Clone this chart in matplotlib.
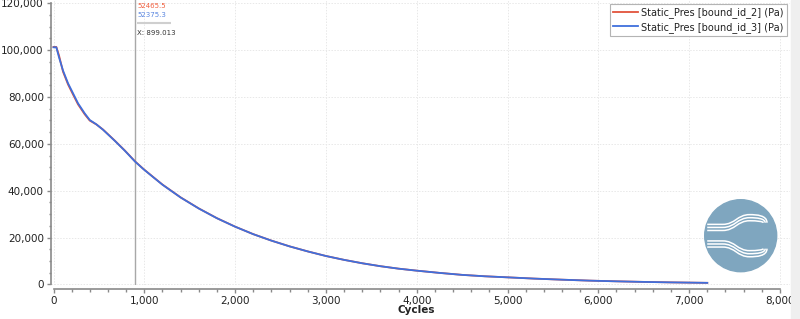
import numpy as np
import matplotlib
matplotlib.use("Agg")
import matplotlib.pyplot as plt
from matplotlib.ticker import MultipleLocator, FuncFormatter
from matplotlib.patches import Circle, Rectangle, PathPatch
from matplotlib.path import Path

plt.rcParams['font.family'] = ['DejaVu Sans']

# 데이터
cycles = [0, 31, 61, 105, 160, 215, 270, 343, 399, 472, 545, 674, 784, 899,
          993, 1100, 1200, 1400, 1600, 1800, 2000, 2200, 2400, 2600, 2800,
          3000, 3200, 3400, 3600, 3800, 4000, 4250, 4500, 4750, 5000, 5300,
          5600, 5900, 6200, 6500, 6800, 7000, 7200]
pres_id3 = [101150, 101150, 96800, 91200, 85800, 81540, 77270, 73000, 70150,
            68300, 66000, 61300, 57100, 52375, 49100, 45700, 42550, 37100,
            32400, 28250, 24650, 21450, 18700, 16250, 14100, 12150, 10500,
            9050, 7800, 6750, 5900, 4950, 4100, 3500, 3050, 2500, 2050, 1650,
            1350, 1100, 900, 800, 700]
pres_id2 = [101300, 101300, 97600, 90700, 85300, 81000, 76800, 72600, 69900,
            68250, 66080, 61390, 57190, 52465, 49180, 45770, 42610, 37150,
            32440, 28280, 24670, 21470, 18715, 16260, 14110, 12160, 10510,
            9055, 7805, 6755, 5905, 4955, 4105, 3505, 3055, 2505, 2055, 1655,
            1355, 1105, 905, 805, 705]
SERIES = ["Static_Pres [bound_id_2] (Pa)", "Static_Pres [bound_id_3] (Pa)"]
COLORS = ["#e2533c", "#3f6fdc"]
cursor_x = 899.013
cursor_vals = ["52465.5", "52375.3"]

fig = plt.figure(figsize=(8.0, 3.19), dpi=100)
fig.patches.append(Rectangle((790.7 / 800, 0), 1, 1, transform=fig.transFigure,
                             color="#efefef", zorder=0))
ax = fig.add_axes([50.7 / 800, 1 - 285.2 / 319, 739.3 / 800, 285.2 / 319])
ax.set_facecolor("none")

ax.plot(cycles, pres_id2, color=COLORS[0], lw=1.3, label=SERIES[0])
ax.plot(cycles, pres_id3, color=COLORS[1], lw=1.3, label=SERIES[1])

ax.set_xlim(-31, 8111)
ax.set_ylim(-300, 121320)
ax.xaxis.set_major_locator(MultipleLocator(1000))
ax.xaxis.set_minor_locator(MultipleLocator(200))
ax.yaxis.set_major_locator(MultipleLocator(20000))
ax.yaxis.set_minor_locator(MultipleLocator(5000))
fmt = FuncFormatter(lambda v, p: f"{int(v):,}")
ax.xaxis.set_major_formatter(fmt)
ax.yaxis.set_major_formatter(fmt)
ax.grid(True, which="major", color="#e8e8e8", lw=0.7, ls=(0, (1.5, 1.5)))

for s in ["top", "right"]:
    ax.spines[s].set_visible(False)
for s in ["left", "bottom"]:
    ax.spines[s].set_color("#8a8a8a")
    ax.spines[s].set_linewidth(1.2)
ax.spines["bottom"].set_position(("outward", 3))
ax.spines["bottom"].set_bounds(0, 8000)
ax.spines["left"].set_bounds(0, 120000)
ax.tick_params(which="major", length=3, width=1, color="#8a8a8a",
               labelsize=7.5, labelcolor="#222222")
ax.tick_params(which="minor", length=1.8, width=1, color="#8a8a8a")
ax.tick_params(axis="x", pad=1.5)
ax.tick_params(axis="y", pad=2)

ax.set_xlabel("Cycles", fontsize=7.5, fontweight="bold", color="#222222")
ax.xaxis.set_label_coords(0.494, -0.07)

# 커서
ax.axvline(cursor_x, color="#a8a8a8", lw=1.0, zorder=1)
xa = ax.get_xaxis_transform()
for i, (txt, c) in enumerate(zip(cursor_vals, ["#f0603f", "#5a86e0"])):
    ax.annotate(txt, xy=(cursor_x, 1), xycoords=xa, xytext=(1.4, -4.3 - 6.5 * i),
                textcoords="offset points", va="center", ha="left",
                fontsize=5, color=c)
ax.hlines(1 - 23.3 / 285.2, cursor_x + 25, cursor_x + 400, transform=xa,
          color="#cfcfcf", lw=1.5)
ax.annotate(f"X: {cursor_x}", xy=(cursor_x, 1), xycoords=xa, xytext=(1.6, -23.8),
            textcoords="offset points", va="center", ha="left",
            fontsize=5, color="#333333")

leg = ax.legend(loc="upper right", bbox_to_anchor=(0.996, 0.986), fontsize=7,
                frameon=True, fancybox=False, framealpha=1, edgecolor="#b4b4b4",
                borderpad=0.35, handlelength=2.6, handletextpad=0.3,
                labelspacing=0.35, borderaxespad=0)
leg.get_frame().set_linewidth(0.8)
for t in leg.get_texts():
    t.set_color("#222222")

# 로고
lax = fig.add_axes([(740.7 - 40) / 800, (83.3 - 40) / 319, 80 / 800, 80 / 319])
lax.set_xlim(-40 / 36, 40 / 36)
lax.set_ylim(-40 / 36, 40 / 36)
lax.axis("off")
lax.add_patch(Circle((0, 0), 1, color="#7fa6bf"))
for sgn in (1, -1):
    for k in (-1, 0, 1):
        d = 0.085 * k
        y0 = sgn * (0.23 + d * sgn)
        yp = sgn * (0.5 + d * sgn)
        xe = 0.68 + 0.05 * k * sgn
        verts = [(-0.93, y0), (-0.5, y0), (-0.15, y0), (-0.1, yp), (0.25, yp),
                 (0.45, yp), (xe, yp - sgn * 0.02), (xe, sgn * 0.36)]
        codes = [Path.MOVETO, Path.LINETO, Path.CURVE4, Path.CURVE4, Path.CURVE4,
                 Path.CURVE4, Path.CURVE4, Path.CURVE4]
        lax.add_patch(PathPatch(Path(verts, codes), fc="none", ec="white", lw=1.1))

fig.savefig("out.png", dpi=100)
